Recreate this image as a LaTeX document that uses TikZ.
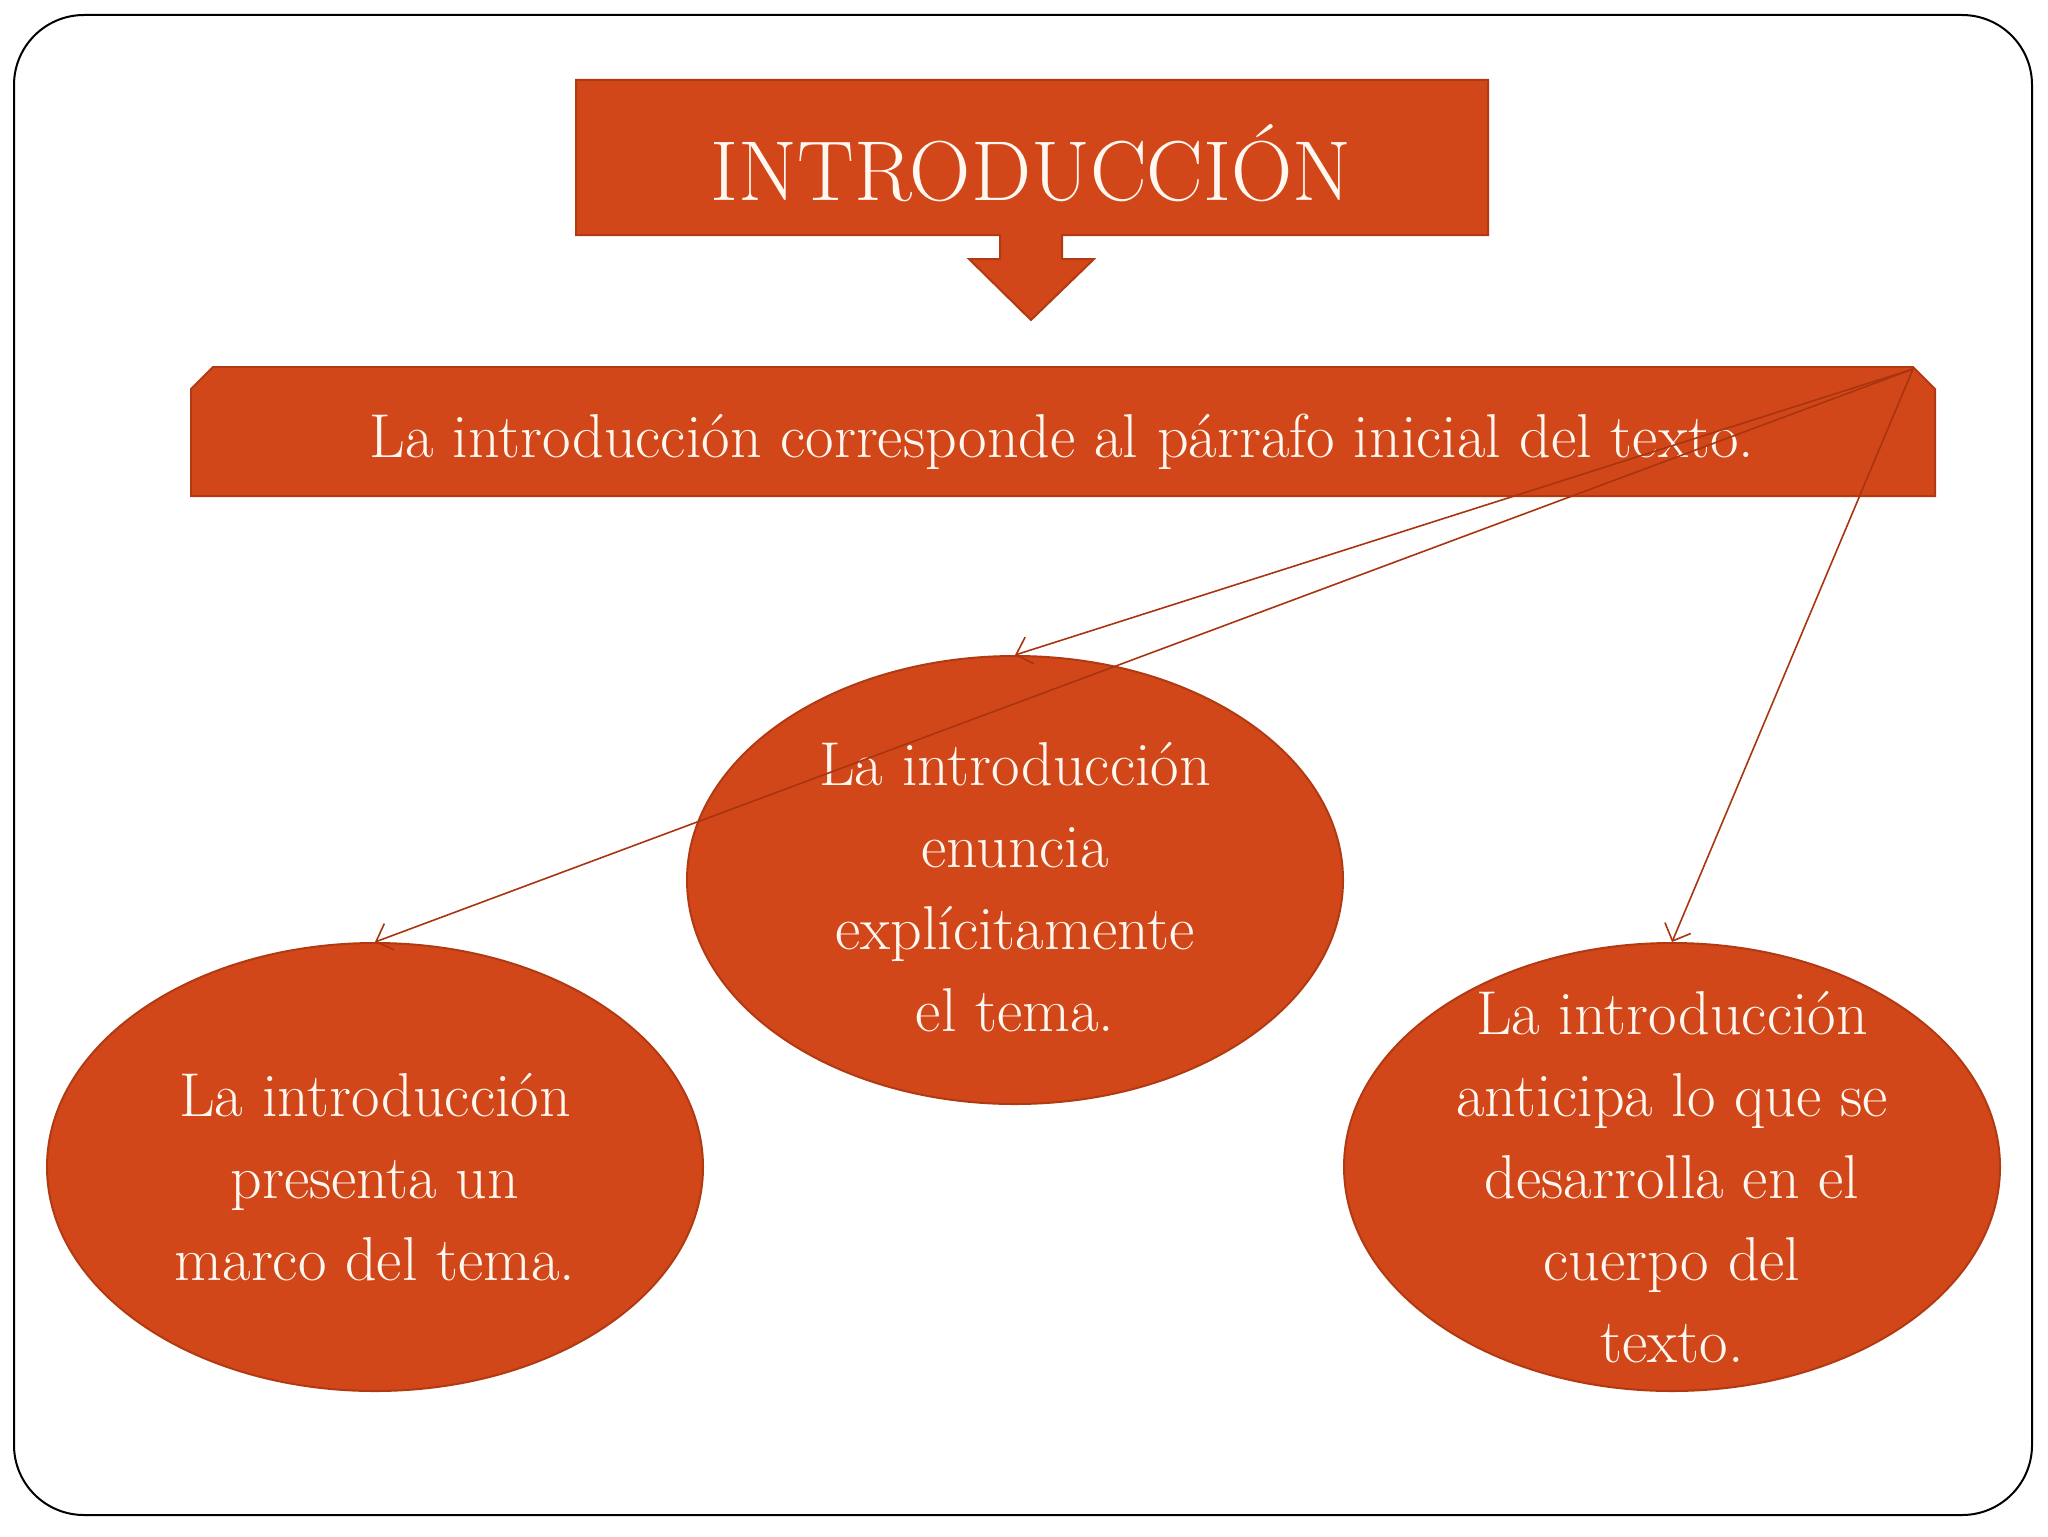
\documentclass[tikz,border=0pt]{standalone}
\usetikzlibrary{shapes.geometric,arrows.meta}
\definecolor{boxfill}{HTML}{D14719}
\definecolor{boxline}{HTML}{B23A12}
\definecolor{linkcol}{HTML}{A83410}
\definecolor{txt}{HTML}{FFF8F0}
\tikzset{
  ell/.style={ellipse, draw=boxline, fill=boxfill, line width=1pt, minimum width=328pt, minimum height=224pt, inner sep=0pt},
  elltext/.style={text=txt, align=center, font=\fontsize{31}{41}\selectfont, inner sep=0pt},
  shapebox/.style={fill=boxfill, draw=boxline, line width=1pt},
  link/.style={draw=linkcol, line width=0.8pt, -{Straight Barb[length=7pt,width=14pt]}},
}
\begin{document}
\begin{tikzpicture}[x=0.5pt,y=-0.5pt]
\useasboundingbox (0,0) rectangle (2048,1536);
\draw[line width=1pt, rounded corners=35pt] (14,15) rectangle (2032,1515);
% title box with arrow
\draw[shapebox] (576,80) -- (1488,80) -- (1488,235) -- (1062,235) -- (1062,259) -- (1094,259) -- (1031,320) -- (969,259) -- (1000,259) -- (1000,235) -- (576,235) -- cycle;
\node[text=txt, font=\fontsize{42.5}{44}\selectfont, inner sep=0pt] (title) at (1031,163) {INTRODUCCIÓN};
% banner
\draw[shapebox] (191,389) -- (213,367) -- (1913,367) -- (1935,389) -- (1935,496) -- (191,496) -- cycle;
\node[text=txt, font=\fontsize{31}{34}\selectfont, inner sep=0pt] (banner) at (1062,442) {La introducción corresponde al párrafo inicial del texto.};
\coordinate (src) at (1913,369);
% ellipses
\node[ell] (mid) at (1015,880) {};
\node[ell] (left) at (375,1167) {};
\node[ell] (right) at (1672,1167) {};
\node[elltext] (midtext) at (1015,887) {La introducción\\enuncia\\explícitamente\\el tema.};
\node[elltext] (lefttext) at (375,1177) {La introducción\\presenta un\\marco del tema.};
\node[elltext] (righttext) at (1672,1177) {La introducción\\anticipa lo que se\\desarrolla en el\\cuerpo del\\texto.};
% connectors
\draw[link] (src) -- (mid.north);
\draw[link] (src) -- (left.north);
\draw[link] (src) -- (right.north);
\end{tikzpicture}
\end{document}
